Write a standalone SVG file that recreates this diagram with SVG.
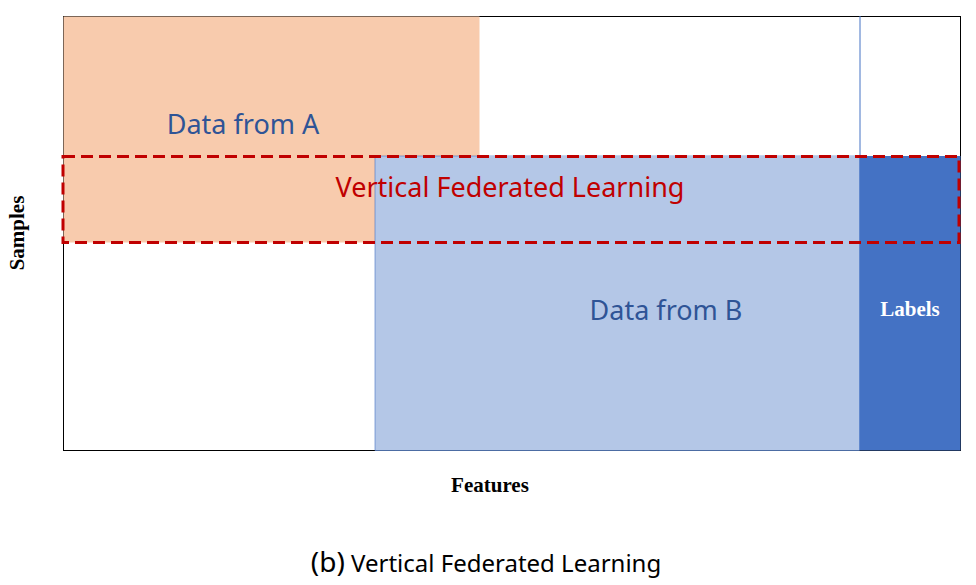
<svg xmlns="http://www.w3.org/2000/svg" width="976" height="585" viewBox="0 0 976 585">
<style>
.lbl{font-family:"Noto Sans",sans-serif;font-size:27px;fill:#2F5496}
.ser{font-family:"Liberation Serif",serif;font-weight:bold;font-size:21px;fill:#000}
</style>
<rect width="976" height="585" fill="#fff"/>
<g id="frame"><rect x="63.5" y="16.5" width="897" height="434" fill="none" stroke="#000" stroke-width="1"/></g>
<g id="dataA"><rect x="63.5" y="16.5" width="416" height="226" fill="#F8CBAD"/>
<text class="lbl" x="243" y="134" text-anchor="middle">Data from A</text></g>
<g id="dataB"><rect x="375" y="156" width="484.5" height="294.5" fill="#B4C7E7" stroke="#4472C4" stroke-width="0.6"/>
<rect x="480" y="156" width="379" height="86" fill="#B4C7E7"/>
<text class="lbl" x="666" y="320" text-anchor="middle">Data from B</text></g>
<g id="labels"><line x1="860" y1="16" x2="860" y2="156" stroke="#4472C4" stroke-width="1"/>
<rect x="859.5" y="156" width="101" height="294.5" fill="#4472C4"/>
<text class="ser" x="910" y="316" text-anchor="middle" fill="#fff" style="fill:#fff">Labels</text></g>
<g id="vfl"><rect x="63" y="156.5" width="896" height="86" fill="none" stroke="#C00000" stroke-width="3" stroke-dasharray="12,6"/>
<text x="510" y="197" text-anchor="middle" font-family="Noto Sans,sans-serif" font-size="27" fill="#C00000">Vertical Federated Learning</text></g>
<text class="ser" x="24" y="233" text-anchor="middle" transform="rotate(-90 24 233)">Samples</text>
<text class="ser" x="490" y="492" text-anchor="middle">Features</text>
<text x="486" y="572" text-anchor="middle" font-family="Noto Sans,sans-serif" font-size="24" fill="#000"><tspan font-size="28">(b)</tspan> Vertical Federated Learning</text>
</svg>
